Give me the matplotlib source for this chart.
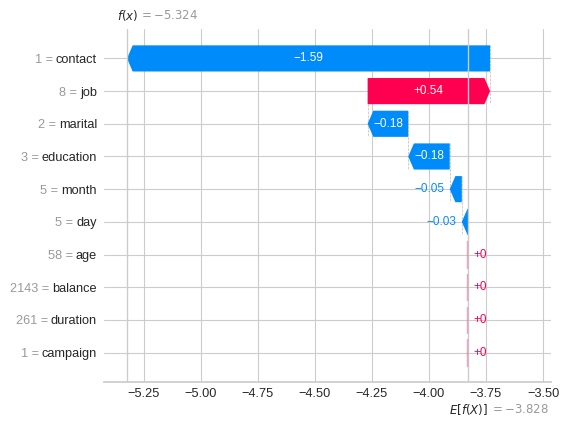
import matplotlib
matplotlib.use("Agg")
import matplotlib.pyplot as plt
import matplotlib.transforms as mtransforms
from matplotlib.patches import FancyArrow
import numpy as np
import seaborn as sns

features = ["contact", "job", "marital", "education", "month", "day",
            "age", "balance", "duration", "campaign"]
feature_values = ["1", "8", "2", "3", "5", "5", "58", "2143", "261", "1"]
shap_values = [-1.592, 0.537, -0.178, -0.182, -0.053, -0.028, 0.0, 0.0, 0.0, 0.0]
base_value = -3.828
xticks = [-5.25, -5.00, -4.75, -4.50, -4.25, -4.00, -3.75, -3.50]

blue = "#008bfb"
red = "#ff0051"

sns.set_style("whitegrid")
plt.rcParams['font.family'] = ['Liberation Sans', 'DejaVu Sans']


def fmt(v):
    s = "%+0.02f" % v
    s = s.rstrip("0").rstrip(".")
    return s.replace("-", "\u2212")


vals = np.array(shap_values)
n = len(vals)
fx = base_value + vals.sum()

fig = plt.figure(figsize=(5.66, 4.24), dpi=100)
ax = fig.add_axes([0.1837, 0.0991, 0.7898, 0.8325])
ax.set_xlim(-5.425, -3.465)
ax.set_ylim(n - 0.1, -0.9)
ax.set_axisbelow(True)

# bar start positions (waterfall runs from the bottom row up)
starts = [base_value + vals[i + 1:].sum() for i in range(n)]

# zero-width bars show up as a thin pink line just left of the E[f(X)] line
zero_tr = mtransforms.offset_copy(ax.transData, fig=fig, x=-1.4, y=0, units="dots")

hl = 0.0248
renderer = fig.canvas.get_renderer()
for i in range(n):
    v = vals[i]
    s = starts[i]
    col = red if v >= 0 else blue
    if v == 0:
        ax.plot([s, s], [i - 0.4, i + 0.4], color=red, alpha=0.35, lw=1,
                zorder=4, transform=zero_tr)
        ax.annotate(fmt(v), (s, i), xytext=(4, 0), textcoords="offset points",
                    ha="left", va="center", color=red, fontsize=8.5)
        continue
    arr = FancyArrow(s, i, v, 0, width=0.8, head_width=0.8,
                     head_length=min(abs(v), hl), length_includes_head=True,
                     color=col, lw=0, zorder=2)
    ax.add_patch(arr)
    # connector to the row below
    ax.plot([s, s], [i - 0.4, i + 1.4], color="#bbbbbb", ls="--", lw=0.5, zorder=1)
    txt = ax.text(s + v / 2, i, fmt(v), ha="center", va="center",
                  color="white", fontsize=8.5, zorder=4)
    tb = txt.get_window_extent(renderer=renderer)
    ab = arr.get_window_extent(renderer=renderer)
    if tb.width > ab.width:
        txt.remove()
        if v < 0:
            ax.annotate(fmt(v), (s + v, i), xytext=(-4, 0), textcoords="offset points",
                        ha="right", va="center", color=blue, fontsize=8.5)
        else:
            ax.annotate(fmt(v), (s + v, i), xytext=(4, 0), textcoords="offset points",
                        ha="left", va="center", color=red, fontsize=8.5)

# y tick labels: dark feature name, grey "value =" in front of it
ax.set_yticks(range(n))
ax.set_yticklabels(features, fontsize=9.2, color="#262626")
ax.tick_params(axis="y", length=0, pad=5)

ax.set_xticks(xticks)
ax.set_xticklabels([("%.2f" % t).replace("-", "\u2212") for t in xticks], fontsize=9.2)
ax.tick_params(axis="x", length=0, pad=4, colors="#262626")

for side in ["top", "right", "left"]:
    ax.spines[side].set_visible(False)
ax.spines["bottom"].set_color("#cccccc")
ax.spines["bottom"].set_linewidth(1.25)

fig.canvas.draw()
inv = fig.transFigure.inverted()
for i, t in enumerate(ax.yaxis.get_majorticklabels()):
    bb = t.get_window_extent(renderer=renderer)
    x0, y0 = inv.transform((bb.x0 - 3, (bb.y0 + bb.y1) / 2))
    fig.text(x0, y0, feature_values[i] + " =", ha="right", va="center",
             fontsize=9.2, color="#999999")

# vertical lines for f(x) and E[f(X)] drawn above the bars
ax.axvline(fx, color="#cccccc", lw=1, zorder=3)
ax.axvline(base_value, color="#cccccc", lw=1, zorder=3)

ax.annotate("$f(x)$", (fx, 1), xycoords=("data", "axes fraction"),
            xytext=(-7, 10), textcoords="offset points", ha="left", va="center",
            fontsize=8.5, color="#262626")
ax.annotate("$ = " + ("%0.03f" % fx).replace("-", "\u2212") + "$", (fx, 1),
            xycoords=("data", "axes fraction"), xytext=(8.5, 10),
            textcoords="offset points", ha="left", va="center", fontsize=8.5,
            color="#999999")
ax.annotate("$E[f(X)]$", (base_value, 0), xycoords=("data", "axes fraction"),
            xytext=(-14, -20), textcoords="offset points", ha="left", va="center",
            fontsize=8.5, color="#262626")
ax.annotate("$ = " + ("%0.03f" % base_value).replace("-", "\u2212") + "$", (base_value, 0),
            xycoords=("data", "axes fraction"), xytext=(15.6, -20),
            textcoords="offset points", ha="left", va="center", fontsize=8.5,
            color="#999999")

fig.savefig("out.png", dpi=100)
